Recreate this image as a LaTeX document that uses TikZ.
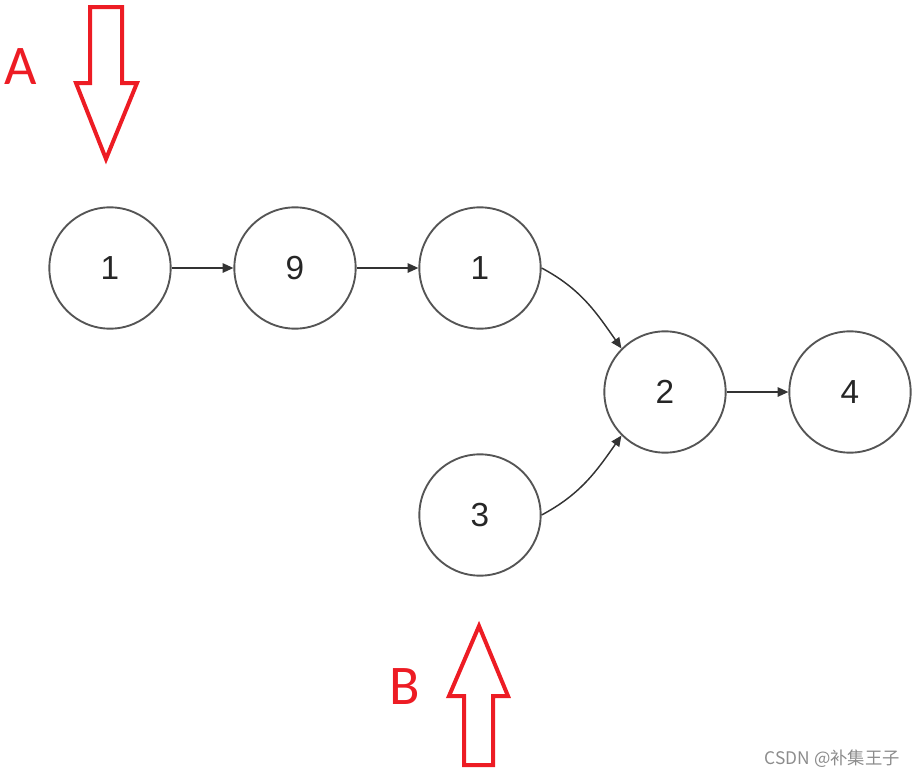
\documentclass[tikz,border=0pt]{standalone}
\usepackage{fontspec}
\setmainfont{Liberation Sans}
\newfontfamily\labfont{Carlito}
\newfontfamily\cjkfont{Noto Sans CJK SC}
\usetikzlibrary{arrows.meta}
\definecolor{redarrow}{HTML}{ED1C24}
\definecolor{circgray}{HTML}{555555}
\definecolor{edgegray}{HTML}{333333}
\tikzset{
  listnode/.style={circle, draw=circgray, line width=1.4pt, minimum size=91pt, inner sep=0pt, font=\fontsize{25}{25}\selectfont, text=black!85},
  link/.style={draw=edgegray, line width=1.1pt, -{Triangle[length=8pt,width=7pt]}},
  bigarrow/.style={draw=redarrow, line width=3pt, miter limit=10},
  biglabel/.style={text=redarrow, font=\labfont\fontsize{42}{42}\selectfont, inner sep=0pt},
}
\begin{document}
\begin{tikzpicture}[x=0.75pt,y=0.75pt]
\useasboundingbox (0,0) rectangle (915,-778);
\node[listnode] (a1) at (110,-268) {1};
\node[listnode] (a2) at (295,-268) {9};
\node[listnode] (a3) at (480,-268) {1};
\node[listnode] (c1) at (665,-392) {2};
\node[listnode] (c2) at (850,-392) {4};
\node[listnode] (b1) at (480,-515) {3};
\draw[link] (a1) -- (a2);
\draw[link] (a2) -- (a3);
\draw[link] (c1) -- (c2);
\draw[link] (a3.east) to[out=-28,in=125] (c1.135);
\draw[link] (b1.east) to[out=28,in=-125] (c1.-135);
% big arrows
\draw[bigarrow] (90,-7) -- (122,-7) -- (122,-83) -- (137,-83) -- (106,-159) -- (76,-83) -- (90,-83) -- cycle;
\draw[bigarrow] (464,-765) -- (493,-765) -- (493,-696) -- (508,-696) -- (479,-626) -- (449,-696) -- (464,-696) -- cycle;
\node[biglabel] (la) at (21,-67) {A};
\node[biglabel] (lb) at (405,-687) {B};
\node[anchor=east, text=black!45, font=\cjkfont\fontsize{13}{13}\selectfont, inner sep=0pt] (wm) at (900,-759) {CSDN @补集王子};
\end{tikzpicture}
\end{document}
